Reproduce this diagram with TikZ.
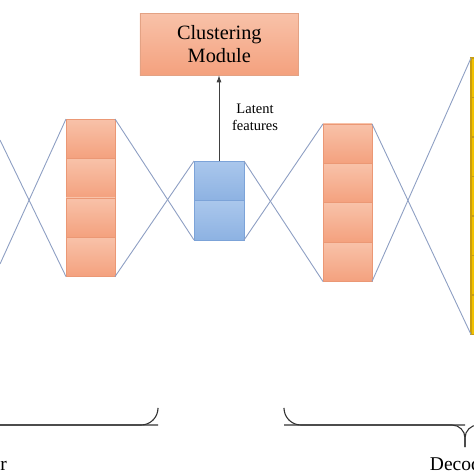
\documentclass[tikz,border=0pt]{standalone}
\usepackage{fontspec}
\setmainfont{Liberation Serif}
\usetikzlibrary{arrows.meta}
\definecolor{orT}{HTML}{F8C2A9}
\definecolor{orD}{HTML}{F4A17E}
\definecolor{orB}{HTML}{EB9875}
\definecolor{cmB}{HTML}{E3A284}
\definecolor{blT}{HTML}{AAC7EC}
\definecolor{blD}{HTML}{8DB2E2}
\definecolor{blB}{HTML}{7CA3D8}
\definecolor{ylF}{HTML}{F2C200}
\definecolor{ylB}{HTML}{C99E10}
\definecolor{lnC}{HTML}{8E9FC3}
\definecolor{brC}{HTML}{333333}
\begin{document}
\begin{tikzpicture}[x=1pt,y=-1pt,
  ocell/.style={draw=orB, line width=0.6pt, top color=orT, bottom color=orD,
    minimum width=49pt, minimum height=39.4pt, inner sep=0pt, outer sep=0pt},
  bcell/.style={draw=blB, line width=0.6pt, top color=blT, bottom color=blD,
    minimum width=50pt, minimum height=39.5pt, inner sep=0pt, outer sep=0pt},
  ycell/.style={draw=ylB, line width=1.2pt, fill=ylF,
    minimum width=49pt, minimum height=39.5pt, inner sep=0pt, outer sep=0pt},
  cmbox/.style={draw=cmB, line width=0.6pt, top color=orT, bottom color=orD,
    minimum width=158.7pt, minimum height=62pt, inner sep=0pt, align=center,
    font=\fontsize{20.3}{23.5}\selectfont},
  link/.style={draw=lnC, line width=0.9pt},
  arr/.style={draw=black!75, line width=0.8pt, -{Latex[length=7pt,width=5pt]}},
  brace/.style={draw=brC, line width=1.1pt},
  lbl/.style={font=\fontsize{19.5}{22}\selectfont, anchor=base, inner sep=0pt}]
\useasboundingbox (0,0) rectangle (474,474);
\clip (0,0) rectangle (474,474);
% free ends of the input links
\coordinate (inA) at (0,140);
\coordinate (inB) at (0,264);
\node[ocell] (l1) at (90.5,138.7) {};
\node[ocell] (l2) at (90.5,178.1) {};
\node[ocell] (l3) at (90.5,217.5) {};
\node[ocell] (l4) at (90.5,256.9) {};
\node[bcell] (b1) at (219,180.75) {};
\node[bcell] (b2) at (219,220.25) {};
\node[ocell] (r1) at (347.5,143.6) {};
\node[ocell] (r2) at (347.5,183.0) {};
\node[ocell] (r3) at (347.5,222.4) {};
\node[ocell] (r4) at (347.5,261.8) {};
\foreach \i in {1,...,7} {
  \node[ycell] (y\i) at (495.5,{58+39.5*(\i-0.5)}) {};
}
\draw[link] (inA) -- (l4.south west);
\draw[link] (inB) -- (l1.north west);
\draw[link] (l1.north east) -- (b2.south west);
\draw[link] (l4.south east) -- (b1.north west);
\draw[link] (b1.north east) -- (r4.south west);
\draw[link] (b2.south east) -- (r1.north west);
\draw[link] (r1.north east) -- (y7.south west);
\draw[link] (r4.south east) -- (y1.north west);
% clustering module
\node[cmbox] (cm) at (219.3,44) {Clustering\\Module};
\draw[arr] (b1.north) -- (b1.north |- cm.south);
\node[font=\fontsize{14.5}{17.5}\selectfont, align=center, inner sep=0pt] (lf) at (255,117.5) {Latent\\features};
% braces
\coordinate (e1) at (158,409);
\coordinate (e2) at (158,425);
\coordinate (e3) at (-23,425);
\coordinate (e4) at (-23,447);
\coordinate (e5) at (-60,425);
\draw[brace, rounded corners=17pt] (e1) -- (e2) -- (e3);
\draw[brace, rounded corners=13pt] (e2) -- (e3) -- (e4);
\coordinate (d1) at (284,409);
\coordinate (d2) at (284,425);
\coordinate (d3) at (465,425);
\coordinate (d4) at (465,447);
\coordinate (d5) at (520,425);
\draw[brace, rounded corners=17pt] (d1) -- (d2) -- (d3);
\draw[brace, rounded corners=13pt] (d2) -- (d3) -- (d4);
\draw[brace, rounded corners=13pt] (d4) -- (d3) -- (d5);
\node[lbl] (enc) at (-25.5,470) {Encoder};
\node[lbl] (dec) at (463,470) {Decoder};
\end{tikzpicture}
\end{document}
